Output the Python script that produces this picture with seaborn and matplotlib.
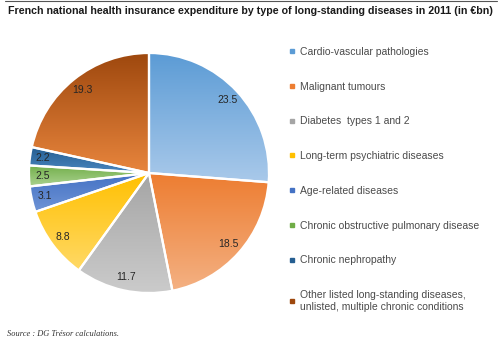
import numpy as np
import matplotlib
matplotlib.use("Agg")
import matplotlib.pyplot as plt
import seaborn as sns
from matplotlib.lines import Line2D
from matplotlib.colors import LinearSegmentedColormap

categories = [
    "Cardio-vascular pathologies",
    "Malignant tumours",
    "Diabetes  types 1 and 2",
    "Long-term psychiatric diseases",
    "Age-related diseases",
    "Chronic obstructive pulmonary disease",
    "Chronic nephropathy",
    "Other listed long-standing diseases,\nunlisted, multiple chronic conditions",
]
values = [23.5, 18.5, 11.7, 8.8, 3.1, 2.5, 2.2, 19.3]
top_colors = ["#5b9bd5", "#ed7d31", "#a5a5a5", "#ffc000", "#4472c4", "#70ad47", "#255e91", "#9e480e"]
bottom_colors = ["#a9c9ea", "#f4b183", "#cbcbcb", "#ffd966", "#6f94d6", "#a9d18e", "#4a86c0", "#e8853d"]
title = "French national health insurance expenditure by type of long-standing diseases in 2011 (in €bn)"
source = "Source : DG Trésor calculations."

sns.set_theme(style="white")
plt.rcParams["font.family"] = ["Liberation Sans", "DejaVu Sans"]

fig = plt.figure(figsize=(5.0, 3.46), dpi=100)
ax = fig.add_axes([0.058, 0.153, 0.48, 0.694])

wedges, texts = ax.pie(values, startangle=90, counterclock=False,
                       labels=[f"{v:.1f}" for v in values], labeldistance=0.89,
                       wedgeprops=dict(edgecolor="white", linewidth=1.6),
                       textprops=dict(fontsize=7.5, color="#262626", ha="center", va="center"))

grad = np.linspace(0, 1, 256).reshape(-1, 1)
for w, ct, cb in zip(wedges, top_colors, bottom_colors):
    path = w.get_path().transformed(w.get_patch_transform())
    ext = path.get_extents()
    cmap = LinearSegmentedColormap.from_list("g", [cb, ct])
    im = ax.imshow(grad, cmap=cmap, extent=[ext.x0, ext.x1, ext.y0, ext.y1],
                   origin="lower", aspect="auto", zorder=1)
    im.set_clip_path(w)
    w.set_facecolor("none")
    w.set_zorder(2)
for t in texts:
    t.set_zorder(3)
ax.set_xlim(-1.0, 1.0)
ax.set_ylim(-1.0, 1.0)
ax.set_aspect("equal")
ax.axis("off")

handles = [Line2D([], [], marker="s", ls="", markersize=2.5, color=c) for c in top_colors]
fig.legend(handles, categories, loc="upper left", bbox_to_anchor=(0.572, 0.877),
           frameon=False, fontsize=7.5, labelcolor="#4a4a4a", handlelength=0.4,
           handletextpad=0.5, labelspacing=2.38, borderaxespad=0)

# title fitted to the reference width (~489 px)
tt = fig.text(0.016, 0.984, title, fontsize=9, fontweight="bold",
              color="#1a1a1a", ha="left", va="top")
fig.canvas.draw()
w_px = tt.get_window_extent(fig.canvas.get_renderer()).width
tt.set_fontsize(9 * 486.0 / w_px)

fig.add_artist(Line2D([0.01, 0.994], [0.997, 0.997], transform=fig.transFigure,
                      color="#555555", lw=0.8))

fig.text(0.014, 0.035, source, fontsize=6, style="italic", family=["Liberation Serif"],
         color="#333333", ha="left", va="center")

fig.savefig("out.png", dpi=100, facecolor="white")
